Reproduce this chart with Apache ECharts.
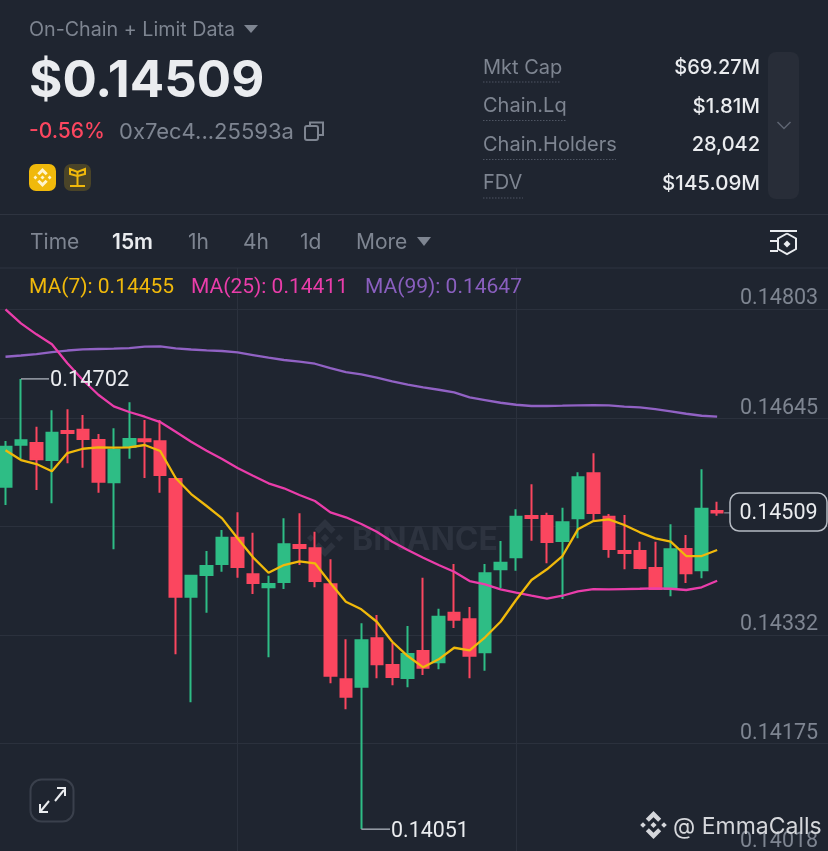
<!DOCTYPE html>
<html><head><meta charset="utf-8">
<style>html,body{margin:0;padding:0;background:#1F2530;overflow:hidden}#c{width:828px;height:851px}</style>
<script src="https://cdn.jsdelivr.net/npm/echarts@6/dist/echarts.min.js"></script>
</head><body><div id="c"></div>
<script>
const opens=[0.145461,0.146068,0.146093,0.145847,0.146266,0.146285,0.146136,0.145525,0.146035,0.146146,0.146117,0.145572,0.143871,0.144184,0.144343,0.144724,0.144195,0.144007,0.144083,0.144618,0.144570,0.144050,0.142677,0.142570,0.143269,0.142883,0.142695,0.143086,0.142922,0.143639,0.143544,0.143067,0.144267,0.144440,0.145037,0.145037,0.144676,0.145004,0.145655,0.145027,0.144531,0.144531,0.144286,0.143982,0.144560,0.144252,0.145110];
const closes=[0.146039,0.146132,0.145857,0.146242,0.146237,0.146151,0.145533,0.145996,0.146151,0.146117,0.145630,0.143871,0.144174,0.144315,0.144724,0.144300,0.144069,0.144054,0.144628,0.144575,0.144098,0.142729,0.142425,0.143240,0.142893,0.142710,0.143042,0.142844,0.143582,0.143538,0.143018,0.144209,0.144362,0.145027,0.145008,0.144662,0.144946,0.145597,0.145081,0.144560,0.144502,0.144286,0.143982,0.144556,0.144209,0.145143,0.145090];
const lows=[0.145196,0.145861,0.145413,0.145221,0.145799,0.145736,0.145374,0.144556,0.145866,0.145587,0.145374,0.143038,0.142344,0.143639,0.144232,0.144145,0.143910,0.142995,0.143982,0.144329,0.144007,0.142619,0.142243,0.140512,0.142691,0.142590,0.142561,0.142739,0.142821,0.143418,0.142691,0.142801,0.143996,0.144247,0.144680,0.144354,0.143837,0.144715,0.144980,0.144435,0.144267,0.144267,0.143968,0.143877,0.144069,0.144137,0.145042];
const highs=[0.146122,0.147018,0.146328,0.146566,0.146580,0.146498,0.146223,0.146305,0.146681,0.146425,0.146425,0.145572,0.144184,0.144531,0.144835,0.145091,0.144796,0.144174,0.145004,0.145076,0.144810,0.144411,0.143255,0.143486,0.143606,0.143201,0.143447,0.144145,0.143697,0.144343,0.143722,0.144343,0.144676,0.145134,0.145496,0.145085,0.145157,0.145669,0.145944,0.145066,0.145052,0.144666,0.144666,0.144917,0.144763,0.145713,0.145244];
const ma7=[0.145987,0.145847,0.145789,0.145684,0.145948,0.146010,0.146031,0.146025,0.146031,0.146064,0.145977,0.145587,0.145355,0.145182,0.145004,0.144715,0.144440,0.144218,0.144329,0.144383,0.144354,0.144069,0.143798,0.143689,0.143509,0.143220,0.143013,0.142850,0.142966,0.143133,0.143096,0.143284,0.143509,0.143823,0.144112,0.144267,0.144459,0.144845,0.144965,0.144990,0.144907,0.144802,0.144715,0.144666,0.144459,0.144459,0.144546];
const ma25=[0.148026,0.147823,0.147664,0.147520,0.147245,0.147004,0.146791,0.146623,0.146541,0.146473,0.146396,0.146256,0.146112,0.145981,0.145861,0.145731,0.145620,0.145510,0.145438,0.145341,0.145254,0.145091,0.145019,0.144922,0.144810,0.144666,0.144546,0.144435,0.144329,0.144232,0.144098,0.144050,0.143978,0.143929,0.143885,0.143842,0.143885,0.143949,0.143982,0.143978,0.143982,0.143986,0.143992,0.143986,0.143968,0.144007,0.144102];
const ma99=[0.147340,0.147358,0.147379,0.147408,0.147430,0.147447,0.147452,0.147456,0.147466,0.147485,0.147491,0.147462,0.147445,0.147433,0.147423,0.147404,0.147365,0.147326,0.147293,0.147268,0.147239,0.147177,0.147119,0.147086,0.147037,0.146985,0.146936,0.146898,0.146863,0.146826,0.146753,0.146714,0.146675,0.146646,0.146628,0.146628,0.146632,0.146638,0.146642,0.146638,0.146618,0.146609,0.146584,0.146551,0.146516,0.146487,0.146473];
const tickLabels=[0.14803,0.14645,0.14332,0.14175,0.14018];
const gridValues=[0.14803,0.14645,0.14489,0.14332,0.14175,0.14018];
const highMark=0.14702, lowMark=0.14051, lastPrice=0.14509;
const slots=Array.from({length:54},(_,i)=>String(i));

const BG='#1F2530',GRID='#2B313D',UP='#2EBD85',DOWN='#FB465F',GRAY='#7E8591',WHITE='#EAECEF',F='Inter, "Noto Sans", sans-serif',N='Roboto, Inter, sans-serif';
const chart=echarts.init(document.getElementById('c'),null,{renderer:'canvas',width:828,height:851});
chart.setOption({
  animation:false,backgroundColor:BG,
  grid:{left:-2.23,top:268,width:835.4,height:602,containLabel:false,outerBoundsMode:'none'},
  xAxis:{type:'category',data:slots,boundaryGap:true,axisLine:{show:false},axisTick:{show:false},axisLabel:{show:false},
    splitLine:{show:true,alignWithLabel:true,interval:(i)=>i===15||i===33,lineStyle:{color:GRID,width:1}}},
  yAxis:{type:'value',position:'right',min:0.13992,max:0.148623,scale:true,axisLine:{show:false},
    axisTick:{show:false,customValues:gridValues},
    axisLabel:{inside:true,customValues:tickLabels,margin:15,color:GRAY,fontFamily:N,fontSize:21.5,verticalAlign:'bottom',lineHeight:20,align:'right',formatter:v=>v.toFixed(5)},
    splitLine:{show:true,lineStyle:{color:GRID,width:1}}},
  series:[
    {type:'candlestick',data:opens.map((o,i)=>[o,closes[i],lows[i],highs[i]]),barWidth:12,
      itemStyle:{color:UP,color0:DOWN,borderColor:UP,borderColor0:DOWN,borderColorDoji:DOWN,borderWidth:2},z:3},
    {type:'line',data:ma99,symbol:'none',lineStyle:{color:'#9162C4',width:2.3},z:4},
    {type:'line',data:ma25,symbol:'none',lineStyle:{color:'#EA3DAA',width:2.3},z:4},
    {type:'line',data:ma7,symbol:'none',lineStyle:{color:'#F0B90B',width:2.3},z:5}
  ]
});

const Z=100;
const T=(text,x,y,size,fill,o={})=>({type:'text',z:o.z||Z,style:{text,x,y,fill,font:`${o.weight||400} ${size}px ${o.font||F}`,align:o.align||'left',verticalAlign:'middle',opacity:o.opacity==null?1:o.opacity}});
const L=(x1,y1,x2,y2,c,w=1,dash)=>({type:'line',z:Z,shape:{x1,y1,x2,y2},style:{stroke:c,lineWidth:w,lineDash:dash||null}});
const R=(x,y,w,h,r,fill,stroke,lw)=>({type:'rect',z:Z,shape:{x,y,width:w,height:h,r},style:{fill:fill||'transparent',stroke:stroke||null,lineWidth:lw||1}});
const P=(pts,fill,z)=>({type:'polygon',z:z||Z,shape:{points:pts},style:{fill}});
const PL=(pts,c,w)=>({type:'polyline',z:Z,shape:{points:pts},style:{stroke:c,lineWidth:w||2,fill:'transparent'}});
const D=(cx,cy,r,fill,z)=>P([[cx,cy-r],[cx+r,cy],[cx,cy+r],[cx-r,cy]],fill,z);
function logo(cx,cy,s,fill,z){
  const a=[];
  a.push(P([[cx,cy-s],[cx+s*.55,cy-s*.45],[cx+s*.33,cy-s*.23],[cx,cy-s*.56],[cx-s*.33,cy-s*.23],[cx-s*.55,cy-s*.45]],fill,z));
  a.push(P([[cx,cy+s],[cx+s*.55,cy+s*.45],[cx+s*.33,cy+s*.23],[cx,cy+s*.56],[cx-s*.33,cy+s*.23],[cx-s*.55,cy+s*.45]],fill,z));
  a.push(D(cx,cy,s*.22,fill,z));a.push(D(cx-s*.75,cy,s*.2,fill,z));a.push(D(cx+s*.75,cy,s*.2,fill,z));
  return a;
}
const hp=chart.convertToPixel({seriesIndex:0},[1,highMark]);
const lp=chart.convertToPixel({seriesIndex:0},[23,lowMark]);
const cp=chart.convertToPixel({seriesIndex:0},[46,lastPrice]);
const SEP='#2E3440',LBL='#7E8591',DOT='#4E5562';
const elements=[
  ...logo(325,538,19,'#2D333F',1),
  T('BINANCE',352,540,32,'#2D333F',{weight:700,z:1}),
  T('On-Chain + Limit Data',29,30,19.7,LBL),
  P([[244,25],[258,25],[251,33]],LBL),
  T('$0.14509',29,82,51,WHITE,{weight:700}),
  T('-0.56%',29,132,21,DOWN,{weight:500}),
  T('0x7ec4...25593a',119,132,22,LBL),
  R(305,126,13,14,2,null,LBL,2),
  PL([[310,126],[310,122.5],[323,122.5],[323,135],[318,135]],LBL,2),
  R(29,164,27,27,7,'#F0B90B'),
  ...logo(42.5,177.5,9.5,'#FFF4CC'),
  R(64,164,27,27,7,'#4A4428'),
  PL([[77.5,172],[77.5,186]],'#F0B90B',2),L(70,186,85,186,'#F0B90B',2),
  PL([[77.5,176],[70,174],[70,169],[77.5,172],[85,169],[85,174],[77.5,176]],'#F0B90B',2),
  T('Mkt Cap',483,68,20,LBL),L(483,82,560,82,DOT,1,[1.5,1.5]),
  T('Chain.Lq',483,106,20,LBL),L(483,120.5,566,120.5,DOT,1,[1.5,1.5]),
  T('Chain.Holders',483,145,20,LBL),L(483,159.5,616,159.5,DOT,1,[1.5,1.5]),
  T('FDV',483,183,20,LBL),L(483,198,523,198,DOT,1,[1.5,1.5]),
  T('$69.27M',760,68,20,WHITE,{align:'right',weight:500}),
  T('$1.81M',760,107,20.5,WHITE,{align:'right',weight:500}),
  T('28,042',760,145,20,WHITE,{align:'right',weight:500}),
  T('$145.09M',760,184,20.5,WHITE,{align:'right',weight:500}),
  R(768,52,31,147,8,'#282D38'),
  PL([[777.5,122],[784,128.5],[790.5,122]],'#5E6572',1.5),
  L(0,214.5,828,214.5,SEP,1),L(0,268,828,268,SEP,1),
  T('Time',30,243,21,LBL),T('15m',112,243,21,WHITE,{weight:600}),T('1h',188,243,21,LBL),T('4h',243,243,21,LBL),T('1d',300,243,21,LBL),T('More',356,243,21,LBL),
  P([[417,237],[431,237],[424,246]],LBL),
  L(770,231,797,231,WHITE,2),L(770,241,778,241,WHITE,2),L(770,251,778,251,WHITE,2),
  PL([[787,233.5],[796,238.5],[796,249],[787,254],[778,249],[778,238.5],[787,233.5]],WHITE,2),
  D(787,244,3.5,WHITE),
  T('MA(7): 0.14455',29,288,21,'#F0B90B',{font:N}),
  T('MA(25): 0.14411',191,288,21,'#EA3DAA',{font:N}),
  T('MA(99): 0.14647',365,288,21,'#8A5FBF',{font:N}),
  L(hp[0],hp[1],49,hp[1],'#9AA0AA',1.5),
  T(highMark.toFixed(5),50,hp[1]+2,21.8,WHITE,{font:N}),
  L(lp[0],lp[1],390,lp[1],'#9AA0AA',1.5),
  T(lowMark.toFixed(5),391,lp[1]+2,21.4,WHITE,{font:N}),
  L(cp[0]+7,cp[1]+.5,730,cp[1]+.5,'#9AA0AA',1),
  R(730,493,97,38,9,BG,'#B5BAC2',1.5),
  T(lastPrice.toFixed(5),778.5,514,21.5,WHITE,{align:'center',font:N}),
  R(30.5,779.5,43,42,11,null,'#3A404C',2),
  L(55,801,64,790,WHITE,2),PL([[57,788],[65,788],[65,796]],WHITE,2),
  L(40,812,49,801,WHITE,2),PL([[40,804],[40,812],[48,812]],WHITE,2),
  ...logo(653.5,825,14,'#D5D7DB'),
  T('@ EmmaCalls',673,827,23,'#D5D7DB')
];
chart.setOption({graphic:{elements}});
</script></body></html>
